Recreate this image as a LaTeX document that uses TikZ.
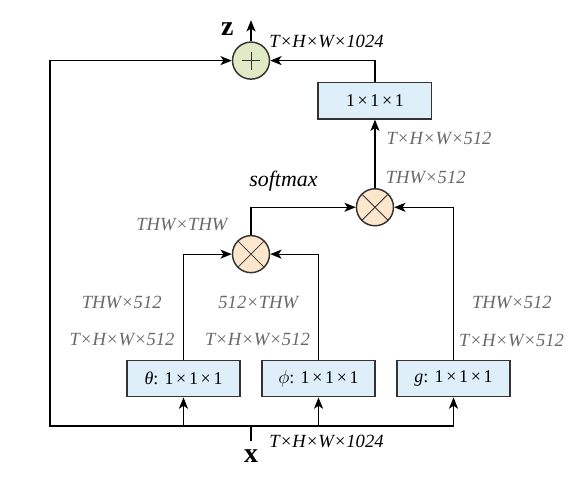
\documentclass[tikz,border=0pt]{standalone}
\usepackage{fontspec}
\setmainfont{Liberation Serif}
\usetikzlibrary{positioning}
\usetikzlibrary{calc}
\usetikzlibrary{arrows.meta}
\definecolor{boxblue}{RGB}{222,239,250}
\definecolor{sumgreen}{RGB}{224,234,196}
\definecolor{mulorange}{RGB}{252,230,204}
\definecolor{dimgray}{RGB}{105,105,105}
\newcommand{\tmul}{\kern.15em×\kern.15em}

\begin{document}
\begin{tikzpicture}[align=center,line width=0.8pt,>={Stealth[length=3mm,width=2.4mm,inset=0.8mm]},
	cbox/.style={rectangle,draw=black!80,fill=boxblue,line width=1.2pt,minimum width=3cm,minimum height=0.96cm,font=\fontsize{13.5}{15}\selectfont},
	cop/.style={circle,draw=black!80,line width=1.1pt,minimum size=0.98cm,inner sep=0pt},
	csum/.style={cop,fill=sumgreen,path picture={\draw[line width=0.6pt] ($(path picture bounding box.center)-(0.24,0)$) -- ++(0.48,0) ($(path picture bounding box.center)-(0,0.24)$) -- ++(0,0.48);}},
	cmul/.style={cop,fill=mulorange,path picture={\draw[line width=0.6pt] (path picture bounding box.north west) -- (path picture bounding box.south east) (path picture bounding box.north east) -- (path picture bounding box.south west);}},
	dlbl/.style={font=\fontsize{14}{16}\selectfont\itshape,text=dimgray,inner sep=1pt},
	slbl/.style={font=\fontsize{16.5}{18}\selectfont\itshape,inner sep=1pt},
	vlbl/.style={font=\fontsize{21}{24}\selectfont\bfseries,inner sep=6pt}]
		\node[cbox] (theta){{\itshape θ}:\hspace{0.35em}1\tmul 1\tmul 1};
		\useasboundingbox ($(theta)+(-4.855,-2.633)$) rectangle ($(theta)+(10.332,10.014)$);
		\node[cbox] (phi)[right = 0.53cm of theta]{$\phi$:\hspace{0.35em}1\tmul 1\tmul 1};
		\node[cbox] (g)[right = 0.53cm of phi]{{\itshape g}:\hspace{0.35em}1\tmul 1\tmul 1};
		\node[cmul] (mul1) at ($(theta)!.5!(phi)+(0,3.29)$){};
		\node[cmul] (mul2) at ($(mul1)+(3.28,1.24)$){};
		\node[cbox] (proj)[above = 1.81cm of mul2]{1\tmul 1\tmul 1};
		\node[csum] (plus) at ($(mul1 |- proj)+(0,1.06)$){};
		\coordinate[above = 0.56cm of plus.north] (ztop);
		\coordinate (xin) at ($(mul1 |- theta)+(0,-1.257)$);
		\coordinate (xleft) at ($(xin)+(-5.318,0)$);
		\node[vlbl] (x)[below = 0.4cm of xin]{x};
		% input x and the bus
		\draw (x) -- (xin) node[dlbl,text=black,pos=0,right=0.44cm] (xdim){T×H×W×1024};
		\draw[->] (xin) -| (g);
		\draw[->] (xin -| theta) -- (theta);
		\draw[->] (xin -| phi) -- (phi);
		\draw[->] (xin) -- (xleft) |- (plus);
		% attention
		\draw[->] (theta.north) |- (mul1) node[dlbl,pos=0.093,left=0.19cm] (thdim){T×H×W×512} node[dlbl,pos=0.273,left=0.53cm] (thflat){THW×512};
		\draw[->] (phi.north) |- (mul1) node[dlbl,pos=0.093,left=0.18cm] (phdim){T×H×W×512} node[dlbl,pos=0.273,left=0.49cm] (phflat){512×THW};
		\draw[->] (g.north) |- (mul2) node[dlbl,pos=0.064,right=0.1cm] (gdim){T×H×W×512} node[dlbl,pos=0.189,right=0.44cm] (gflat){THW×512};
		\draw[->] (mul1.north) |- (mul2) node[dlbl,pos=0.184,left=0.574cm] (attdim){THW×THW} node[slbl,pos=0.655,above=0.38cm] (smax){softmax};
		\draw[->] (mul2) -- (proj) node[dlbl,pos=0.158,right=0.24cm] (yflat){THW×512} node[dlbl,pos=0.728,right=0.26cm] (ydim){T×H×W×512};
		% output z
		\draw[->] (proj.north) |- (plus);
		\draw[->] (plus.north) -- (ztop) node[dlbl,text=black,pos=0,right=0.44cm] (zdim){T×H×W×1024} node[vlbl,pos=0.575,left=0.24cm] (z){z};
	\end{tikzpicture}
\end{document}
